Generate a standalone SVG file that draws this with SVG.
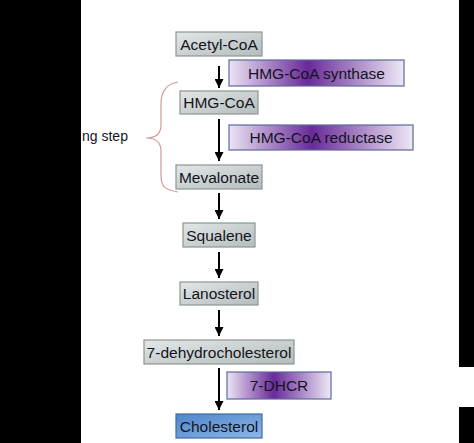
<svg xmlns="http://www.w3.org/2000/svg" width="474" height="443" viewBox="0 0 474 443">
<defs>
<linearGradient id="grey" x1="0" y1="0" x2="1" y2="1">
<stop offset="0" stop-color="#e2e6e6"/>
<stop offset="1" stop-color="#b4bcbc"/>
</linearGradient>
<linearGradient id="blue" x1="0" y1="0" x2="1" y2="1">
<stop offset="0" stop-color="#4f86cc"/>
<stop offset="1" stop-color="#8db6e6"/>
</linearGradient>
<linearGradient id="purple" x1="0" y1="0" x2="1" y2="0">
<stop offset="0" stop-color="#ece4f4"/>
<stop offset="0.45" stop-color="#692a99"/>
<stop offset="1" stop-color="#eee8f5"/>
</linearGradient>
<marker id="head" viewBox="0 0 10 10" refX="10" refY="5" markerWidth="10" markerHeight="9" orient="auto" markerUnits="userSpaceOnUse">
<path d="M0,0 L10,5 L0,10 Z" fill="#000"/>
</marker>
<style>
.node rect { fill: url(#grey); stroke: #8c9494; stroke-width: 1.2; }
.chol rect { fill: url(#blue); stroke: #3f6aa8; stroke-width: 1.2; }
.enz rect { fill: url(#purple); stroke: #5c6a9a; stroke-width: 1.2; }
text { font-family: "Liberation Sans", Arial, sans-serif; fill: #14141e; text-anchor: middle; }
.nt { font-size: 15.5px; }
.et { font-size: 15.5px; }
.edge { stroke: #000; stroke-width: 2; fill: none; marker-end: url(#head); }
.bg { fill: #000; }
</style>
</defs>
<rect width="474" height="443" fill="#fff"/>
<rect class="bg" x="0" y="0" width="81" height="443"/>
<rect class="bg" x="459" y="0" width="15" height="367"/>
<rect class="bg" x="459" y="407" width="15" height="36"/>

<g id="connectors">
<line class="edge" x1="219" y1="66" x2="219" y2="88"/>
<line class="edge" x1="219" y1="119" x2="219" y2="161"/>
<line class="edge" x1="219" y1="193" x2="219" y2="219"/>
<line class="edge" x1="219" y1="252" x2="219" y2="278"/>
<line class="edge" x1="219" y1="310" x2="219" y2="336"/>
<line class="edge" x1="219" y1="368" x2="219" y2="410"/>
</g>

<g id="brace">
<path d="M178,82 C166,84 161,91 161,104 L161,125 C161,134 156,138 146,138 C156,138 161,142 161,151 L161,176 C161,187 166,190 178,192" fill="none" stroke="#d49a9a" stroke-width="1.2"/>
<text x="82" y="141" style="text-anchor:start;font-size:14px">ng step</text>
</g>

<g id="acetyl-coa" class="node"><rect x="176" y="32" width="86" height="24"/><text class="nt" x="219" y="49.5">Acetyl-CoA</text></g>
<g id="hmg-coa-synthase" class="enz"><rect x="229" y="60" width="175" height="26"/><text class="et" x="316.5" y="78.5">HMG-CoA synthase</text></g>
<g id="hmg-coa" class="node"><rect x="180" y="91" width="78" height="23"/><text class="nt" x="219" y="108">HMG-CoA</text></g>
<g id="hmg-coa-reductase" class="enz"><rect x="229" y="125" width="184" height="25"/><text class="et" x="321" y="143">HMG-CoA reductase</text></g>
<g id="mevalonate" class="node"><rect x="176" y="165" width="86" height="24"/><text class="nt" x="219" y="182.5">Mevalonate</text></g>
<g id="squalene" class="node"><rect x="183" y="223" width="72" height="24"/><text class="nt" x="219" y="240.5">Squalene</text></g>
<g id="lanosterol" class="node"><rect x="180" y="282" width="78" height="23"/><text class="nt" x="219" y="299">Lanosterol</text></g>
<g id="7-dehydrocholesterol" class="node"><rect x="144" y="340" width="150" height="24"/><text class="nt" x="219" y="357.5">7-dehydrocholesterol</text></g>
<g id="7-dhcr" class="enz"><rect x="227" y="372" width="104" height="27"/><text class="et" x="279" y="391">7-DHCR</text></g>
<g id="cholesterol" class="chol"><rect x="176" y="414" width="86" height="24"/><text class="nt" x="219" y="431.5">Cholesterol</text></g>
</svg>
